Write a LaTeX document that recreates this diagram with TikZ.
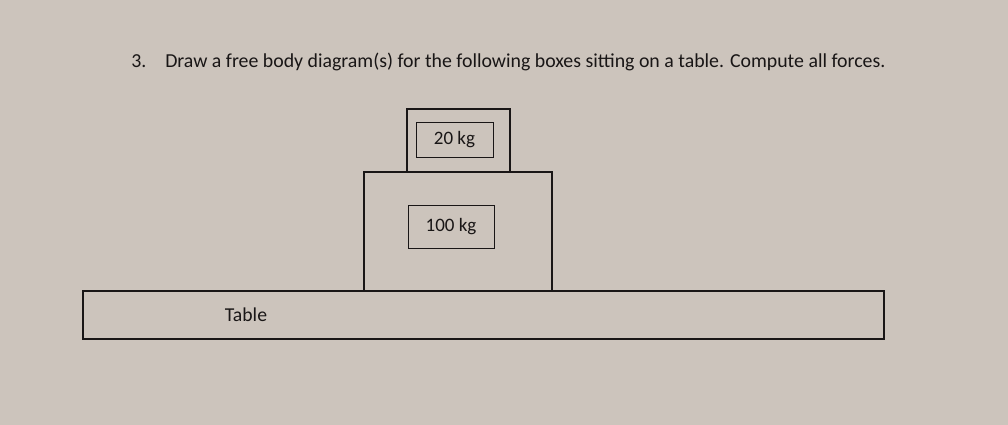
\documentclass[tikz,border=0pt]{standalone}
\usepackage{fontspec}
\setmainfont{Carlito}
\usetikzlibrary{positioning}
\definecolor{paper}{RGB}{204,196,188}
\definecolor{ink}{RGB}{25,22,22}

\begin{document}
\begin{tikzpicture}[x=0.025cm, y=-0.025cm, font=\fontsize{13}{15}\selectfont]
				\tikzstyle{block} = [draw=ink, thick, rectangle, inner sep=0pt]
				\tikzstyle{tag} = [draw=ink, semithick, rectangle, inner sep=0pt, text=ink, font=\fontsize{13.5}{15}\selectfont]
				\tikzstyle{invis} = [draw=none, text=ink, inner sep=0pt]
				
				\fill[paper] (0, 0) rectangle (1008, 425);
				\useasboundingbox (0, 0) rectangle (1008, 425);
				
				\node[invis, anchor=base west, font=\fontsize{14.1}{16}\selectfont]	at (131, 68)	(num)	{3.};
				\node[invis, anchor=base west, font=\fontsize{14.1}{16}\selectfont]	at (165, 68)	(task)	{Draw a free body diagram(s) for the following boxes sitting on a table. Compute all forces.};
				
				\node[block, minimum width=801*0.025cm, minimum height=48*0.025cm]	at (483.5, 315)	(table)	{};
				\node[invis, font=\fontsize{14}{16}\selectfont]	at (246, 315)	(tablelbl)	{Table};
				\node[block, minimum width=188*0.025cm, minimum height=119*0.025cm]	at (458, 231.5)	(big)	{};
				\node[block, minimum width=103*0.025cm, minimum height=63*0.025cm]	at (458.5, 140.5)	(small)	{};
				\node[tag, minimum width=77*0.025cm, minimum height=35*0.025cm]	at (454.5, 139.5)	(m20)	{20 kg};
				\node[tag, minimum width=86*0.025cm, minimum height=43*0.025cm]	at (451, 226.5)	(m100)	{100 kg};
\end{tikzpicture}
\end{document}
